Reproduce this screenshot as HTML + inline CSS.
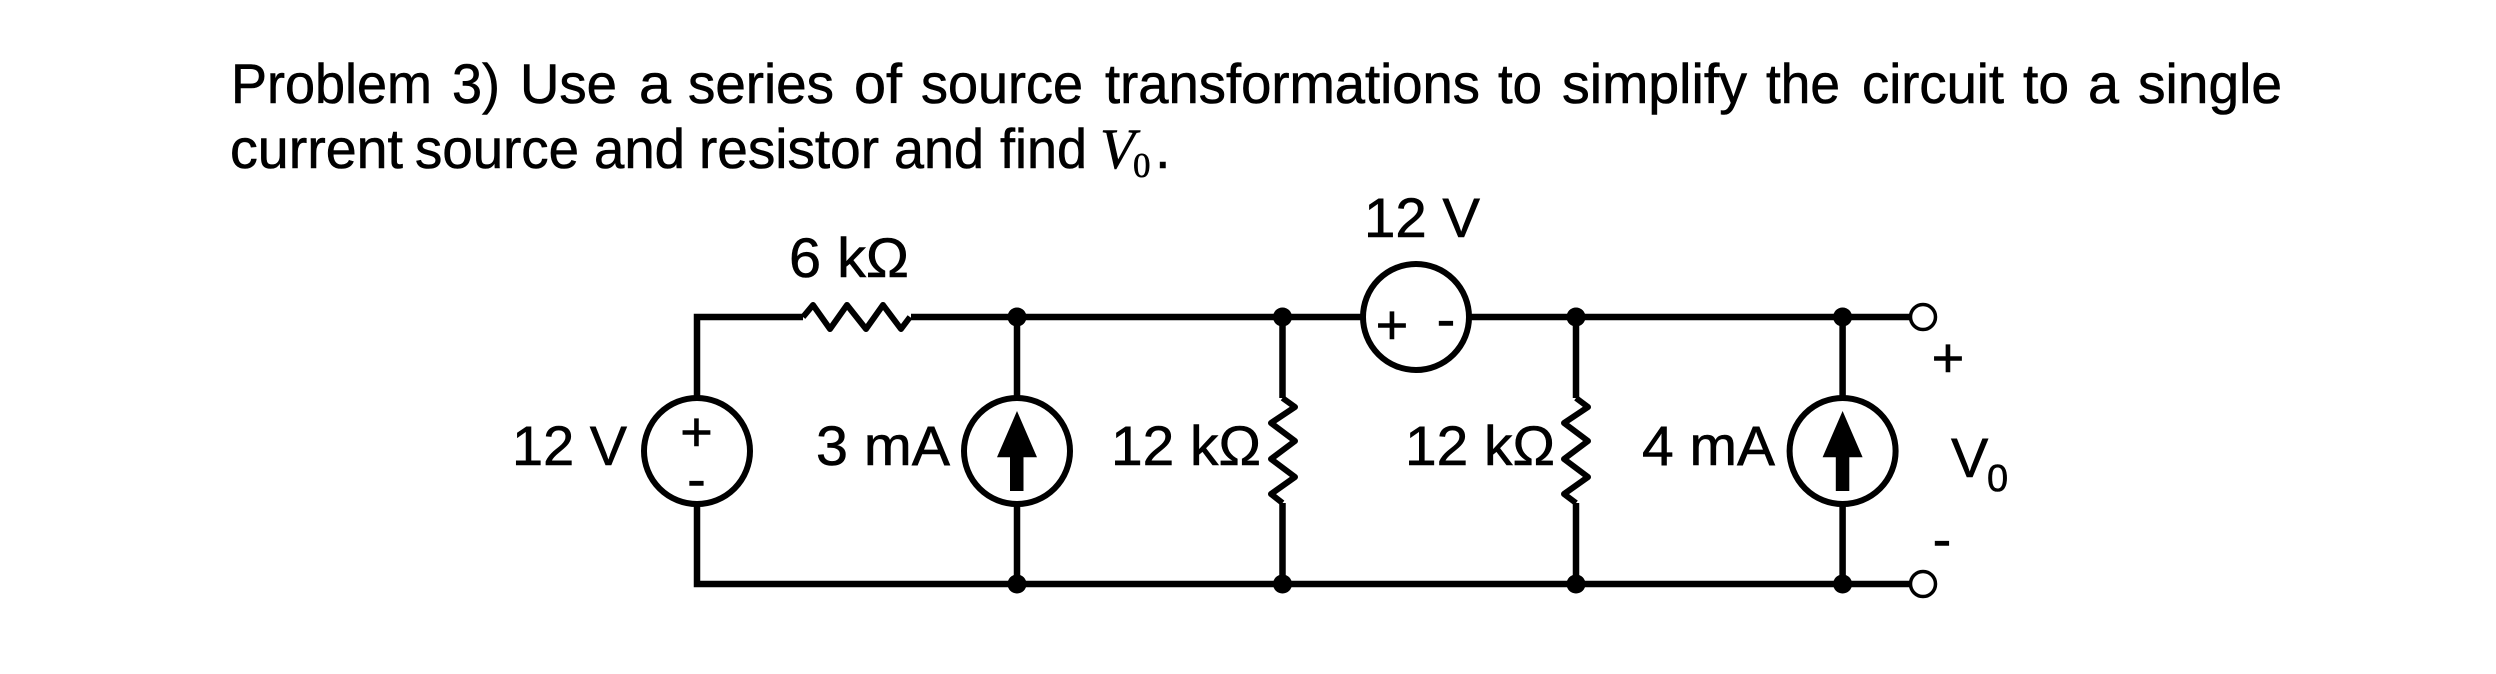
<!DOCTYPE html>
<html><head><meta charset="utf-8"><style>
html,body{margin:0;padding:0;background:#fff}
svg{display:block}
text{font-family:"Liberation Sans",sans-serif;font-size:56px;fill:#000;stroke:#000;stroke-width:.6px}
.w{fill:none;stroke:#000;stroke-width:6.5}
.z{fill:none;stroke:#000;stroke-width:6;stroke-linejoin:round}
.c{fill:#fff;stroke:#000;stroke-width:6}
</style></head><body>
<svg width="2496" height="674" viewBox="0 0 2496 674" xmlns="http://www.w3.org/2000/svg">
<rect width="2496" height="674" fill="#fff"/>
<text x="231" y="103" textLength="201" lengthAdjust="spacingAndGlyphs">Problem</text>
<text x="452" y="103" textLength="48" lengthAdjust="spacingAndGlyphs">3)</text>
<text x="520" y="103" textLength="97" lengthAdjust="spacingAndGlyphs">Use</text>
<text x="639" y="103" textLength="32" lengthAdjust="spacingAndGlyphs">a</text>
<text x="688" y="103" textLength="146" lengthAdjust="spacingAndGlyphs">series</text>
<text x="854" y="103" textLength="48" lengthAdjust="spacingAndGlyphs">of</text>
<text x="921" y="103" textLength="162" lengthAdjust="spacingAndGlyphs">source</text>
<text x="1105" y="103" textLength="375" lengthAdjust="spacingAndGlyphs">transformations</text>
<text x="1498" y="103" textLength="44" lengthAdjust="spacingAndGlyphs">to</text>
<text x="1562" y="103" textLength="185" lengthAdjust="spacingAndGlyphs">simplify</text>
<text x="1766" y="103" textLength="74" lengthAdjust="spacingAndGlyphs">the</text>
<text x="1862" y="103" textLength="142" lengthAdjust="spacingAndGlyphs">circuit</text>
<text x="2023" y="103" textLength="46" lengthAdjust="spacingAndGlyphs">to</text>
<text x="2088" y="103" textLength="31" lengthAdjust="spacingAndGlyphs">a</text>
<text x="2138" y="103" textLength="144" lengthAdjust="spacingAndGlyphs">single</text>

<text x="230" y="168" textLength="173" lengthAdjust="spacingAndGlyphs">current</text>
<text x="415" y="168" textLength="164" lengthAdjust="spacingAndGlyphs">source</text>
<text x="594" y="168" textLength="91" lengthAdjust="spacingAndGlyphs">and</text>
<text x="699" y="168" textLength="180" lengthAdjust="spacingAndGlyphs">resistor</text>
<text x="894" y="168" textLength="90" lengthAdjust="spacingAndGlyphs">and</text>
<text x="1000" y="168" textLength="87" lengthAdjust="spacingAndGlyphs">find</text>
<text x="1100" y="168" style="font-family:'Liberation Serif',serif;font-style:italic;font-size:57px">V</text>
<text x="1133" y="177" style="font-family:'Liberation Serif',serif;font-size:35px">0</text>
<text x="1155" y="168">.</text>

<text x="789" y="277" textLength="120" lengthAdjust="spacingAndGlyphs">6 kΩ</text>
<text x="1364" y="237" textLength="116" lengthAdjust="spacingAndGlyphs">12 V</text>
<text x="512" y="465" textLength="115" lengthAdjust="spacingAndGlyphs">12 V</text>
<text x="816" y="465" textLength="134" lengthAdjust="spacingAndGlyphs">3 mA</text>
<text x="1111" y="465" textLength="150" lengthAdjust="spacingAndGlyphs">12 kΩ</text>
<text x="1405" y="465" textLength="150" lengthAdjust="spacingAndGlyphs">12 kΩ</text>
<text x="1642" y="465" textLength="133" lengthAdjust="spacingAndGlyphs">4 mA</text>
<text x="1951" y="477">V</text>
<text x="1987" y="491" style="font-size:38px">0</text>

<!-- wires -->
<path class="w" d="M697 451V317H803M911 317H1361M1471 317H1923"/>
<path class="w" d="M697 451V584H1923"/>
<path class="w" d="M1017 317V584M1842.6 317V584"/>
<path class="w" d="M1282.5 317V398M1282.5 503V584M1576 317V398M1576 503V584"/>
<!-- resistors -->
<path class="z" d="M803 317L813 305L830 329L847 305L866 329L883 305L901 329L910 317"/>
<path class="z" d="M1282.5 398L1295 407L1271 423L1295 441L1271 459L1295 477L1271 494L1282.5 503"/>
<path class="z" d="M1576 398L1588 407L1564 423L1588 441L1564 459L1588 477L1564 494L1576 503"/>
<!-- sources -->
<circle class="c" cx="697" cy="451" r="53"/>
<circle class="c" cx="1017" cy="451" r="53"/>
<circle class="c" cx="1842.6" cy="451" r="53"/>
<circle class="c" cx="1416" cy="317" r="53"/>
<!-- arrows -->
<path d="M1017 411L1037 457.3H1023.5V491H1010V457.3H997Z"/>
<path d="M1842.6 411L1862.6 457.3H1849.3V491H1835.8V457.3H1822.6Z"/>
<!-- dots -->
<g fill="#000">
<circle cx="1017" cy="317" r="9.5"/><circle cx="1282.5" cy="317" r="9.5"/><circle cx="1576" cy="317" r="9.5"/><circle cx="1842.6" cy="317" r="9.5"/>
<circle cx="1017" cy="584" r="9.5"/><circle cx="1282.5" cy="584" r="9.5"/><circle cx="1576" cy="584" r="9.5"/><circle cx="1842.6" cy="584" r="9.5"/>
</g>
<!-- terminals -->
<circle cx="1923" cy="317" r="12.5" fill="#fff" stroke="#000" stroke-width="3.5"/>
<circle cx="1923" cy="584" r="12.5" fill="#fff" stroke="#000" stroke-width="3.5"/>
<!-- signs -->
<g text-anchor="middle">
<text x="696.5" y="451">+</text>
<text x="696.5" y="498">-</text>
<text x="1392" y="344">+</text>
<text x="1446" y="338">-</text>
<text x="1948" y="377">+</text>
<text x="1942" y="558">-</text>
</g>
</svg>
</body></html>
